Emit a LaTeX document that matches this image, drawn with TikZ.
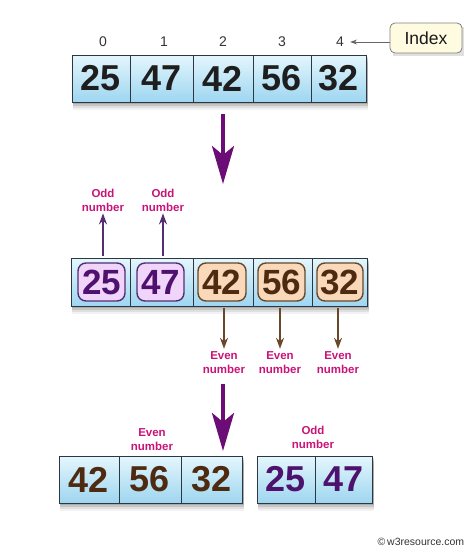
\documentclass[tikz,border=0pt]{standalone}
\usepackage{fontspec}
\setmainfont{Liberation Sans}
\usetikzlibrary{arrows.meta}
\definecolor{celltop}{RGB}{228,246,253}
\definecolor{cellbot}{RGB}{158,214,240}
\definecolor{cellborder}{RGB}{45,55,65}
\definecolor{numdark}{RGB}{30,30,30}
\definecolor{bigpurple}{RGB}{108,12,118}
\definecolor{oddtext}{RGB}{78,18,110}
\definecolor{oddfill}{RGB}{240,212,250}
\definecolor{oddborder}{RGB}{85,45,115}
\definecolor{eventext}{RGB}{78,42,16}
\definecolor{evenfill}{RGB}{250,216,186}
\definecolor{evenborder}{RGB}{105,72,42}
\definecolor{lblmag}{RGB}{200,20,120}
\definecolor{idxfill}{RGB}{255,251,225}
\newcommand\arrshadow[4]{%
  \foreach \k/\o in {2/0.14,4/0.11,6/0.08,8/0.05}{%
    \fill[black,opacity=\o] (#1+1,#2+\k) rectangle (#3+2,#4+\k);}}
\begin{document}
\begin{tikzpicture}[x=1pt,y=-1pt,
  cell/.style={draw=cellborder, line width=0.9pt, top color=celltop, bottom color=cellbot,
    inner sep=0pt, font=\bfseries\fontsize{36}{36}\selectfont, text=numdark},
  oddbox/.style={draw=oddborder, line width=1.4pt, fill=oddfill, rounded corners=8pt,
    inner sep=0pt, minimum height=38pt, font=\bfseries\fontsize{35}{35}\selectfont, text=oddtext},
  evenbox/.style={draw=evenborder, line width=1.4pt, fill=evenfill, rounded corners=8pt,
    inner sep=0pt, minimum height=38pt, font=\bfseries\fontsize{35}{35}\selectfont, text=eventext},
  idx/.style={font=\fontsize{14}{14}\selectfont, text=black!80, inner sep=0pt},
  lbl/.style={align=center, font=\bfseries\fontsize{11.5}{14}\selectfont, text=lblmag, inner sep=1pt},
  bigarrow/.style={draw=bigpurple, line width=4pt, -{Stealth[length=38pt,width=22pt,inset=9pt]}},
  oddarrow/.style={draw=oddborder, line width=1.6pt, -{Stealth[length=11pt,width=8pt]}},
  evenarrow/.style={draw=evenborder, line width=1.6pt, -{Stealth[length=11pt,width=8pt]}},
  idxarrow/.style={draw=black!60, line width=1pt, -{Stealth[length=7pt,width=5pt]}}
]
\useasboundingbox (0,0) rectangle (474,552);

% ---------- top array ----------
\arrshadow{72}{55}{366}{102}
\node[cell, minimum width=58pt, minimum height=47pt] (t0) at (101,78.5) {25};
\node[cell, minimum width=63pt, minimum height=47pt] (t1) at (161.5,78.5) {47};
\node[cell, minimum width=60pt, minimum height=47pt] (t2) at (223,78.5) {42};
\node[cell, minimum width=58pt, minimum height=47pt] (t3) at (282,78.5) {56};
\node[cell, minimum width=55pt, minimum height=47pt] (t4) at (338.5,78.5) {32};

\node[idx] (i0) at (103,42) {0};
\node[idx] (i1) at (164,42) {1};
\node[idx] (i2) at (223,42) {2};
\node[idx] (i3) at (282,42) {3};
\node[idx] (i4) at (340,42) {4};

\fill[black,opacity=0.12] (393,27) rectangle (464,56);
\node[draw=black!50, line width=0.8pt, fill=idxfill, rounded corners=5pt,
  minimum width=72pt, minimum height=30pt, inner sep=0pt,
  font=\fontsize{17.5}{17.5}\selectfont, text=black!90] (index) at (426,38) {Index};
\draw[idxarrow] (index.west |- i4) -- ([xshift=6pt]i4.east);

% ---------- arrow 1 ----------
\coordinate (a1e) at (223,184);
\draw[bigarrow] ([yshift=-12pt]t2.south) -- (a1e);

% ---------- middle array ----------
\arrshadow{71}{258}{367}{306}
\node[cell, minimum width=59pt, minimum height=48pt] (m0) at (100.5,282) {};
\node[cell, minimum width=63pt, minimum height=48pt] (m1) at (161.5,282) {};
\node[cell, minimum width=60pt, minimum height=48pt] (m2) at (223,282) {};
\node[cell, minimum width=59pt, minimum height=48pt] (m3) at (282.5,282) {};
\node[cell, minimum width=55pt, minimum height=48pt] (m4) at (339.5,282) {};

\node[oddbox, minimum width=47pt] (b0) at (101.5,282) {25};
\node[oddbox, minimum width=47pt] (b1) at (160.5,282) {47};
\node[evenbox, minimum width=48pt] (b2) at (222,282) {42};
\node[evenbox, minimum width=47pt] (b3) at (281.5,282) {56};
\node[evenbox, minimum width=46pt] (b4) at (340,282) {32};

\node[lbl] (o0) at (103,200) {Odd\\number};
\node[lbl] (o1) at (163,200) {Odd\\number};
\draw[oddarrow] ([yshift=2pt]m0.north -| o0) -- ([yshift=-1pt]o0.south);
\draw[oddarrow] ([yshift=2pt]m1.north -| o1) -- ([yshift=-1pt]o1.south);

\node[lbl] (e2) at (224,363) {Even\\number};
\node[lbl] (e3) at (280,363) {Even\\number};
\node[lbl] (e4) at (338,363) {Even\\number};
\draw[evenarrow] ([yshift=-2pt]m2.south -| e2) -- ([yshift=2pt]e2.north);
\draw[evenarrow] ([yshift=-2pt]m3.south -| e3) -- ([yshift=2pt]e3.north);
\draw[evenarrow] ([yshift=-2pt]m4.south -| e4) -- ([yshift=2pt]e4.north);

% ---------- arrow 2 ----------
\coordinate (a2s) at (223,384);
\coordinate (a2e) at (223,451);
\draw[bigarrow] (a2s) -- (a2e);

% ---------- bottom arrays ----------
\arrshadow{59}{456}{242}{503}
\arrshadow{257}{456}{372}{503}
\node[cell, minimum width=60pt, minimum height=47pt, text=eventext] (l0) at (89,479.5) {42};
\node[cell, minimum width=62pt, minimum height=47pt, text=eventext] (l1) at (150,479.5) {56};
\node[cell, minimum width=61pt, minimum height=47pt, text=eventext] (l2) at (211.5,479.5) {32};
\node[cell, minimum width=58pt, minimum height=47pt, text=oddtext] (r0) at (286,479.5) {25};
\node[cell, minimum width=57pt, minimum height=47pt, text=oddtext] (r1) at (343.5,479.5) {47};

\node[lbl] (le) at (152,440) {Even\\number};
\node[lbl] (ro) at (313,437) {Odd\\number};

% ---------- watermark ----------
\node[font=\fontsize{10.5}{10.5}\selectfont, text=black!80, inner sep=0pt] (wm) at (421,542) {\textcopyright\,w3resource.com};
\end{tikzpicture}
\end{document}
